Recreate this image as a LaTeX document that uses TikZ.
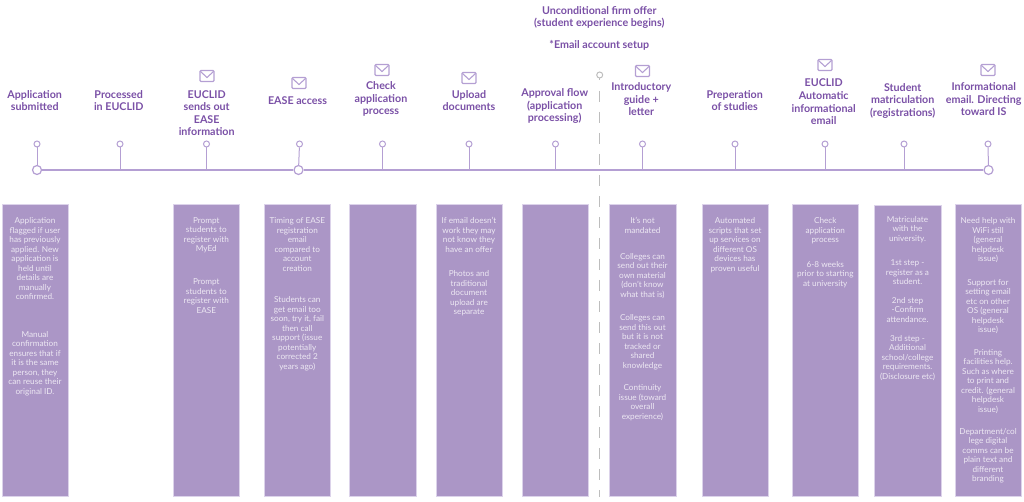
\documentclass[tikz,border=0pt]{standalone}
\usepackage{fontspec}
\setmainfont{Lato}
\definecolor{cardfill}{HTML}{AB96C6}
\definecolor{cardedge}{HTML}{DCD3EA}
\definecolor{headcol}{HTML}{7A50A6}
\definecolor{linecol}{HTML}{B49FD3}
\definecolor{bodycol}{HTML}{EDE8F3}
\definecolor{dashcol}{HTML}{BDBDBD}
\tikzset{
  card/.style={draw=cardedge,line width=0.8pt,fill=cardfill,anchor=north west,inner sep=0pt},
  head/.style={text=headcol,font=\fontsize{10.7}{12.6}\selectfont\bfseries,align=center,inner sep=0pt,anchor=center},
  body/.style={text=bodycol,font=\fontsize{8.2}{9.5}\selectfont,align=center,inner sep=0pt,anchor=north},
  big/.style={circle,draw=linecol,fill=white,line width=1.2pt,minimum size=9pt,inner sep=0pt},
  small/.style={circle,draw=linecol,fill=white,line width=1pt,minimum size=6pt,inner sep=0pt},
  graysmall/.style={circle,draw=dashcol,fill=white,line width=1pt,minimum size=6pt,inner sep=0pt},
  spine/.style={draw=linecol,line width=1.2pt},
  stem/.style={draw=linecol,line width=1pt},
  env/.pic={
    \draw[linecol,line width=1.1pt,rounded corners=1pt] (-7,-5.5) rectangle (7,5.5);
    \draw[linecol,line width=1.1pt] (-6.5,-4.5) -- (0,1.5) -- (6.5,-4.5);
  }
}
\begin{document}
\begin{tikzpicture}[x=1pt,y=-1pt]
\useasboundingbox (0,0) rectangle (1024,502);
% cards
\foreach \n/\l/\r/\t in {c1/1.7/67.8/204,c3/172.7/239.2/204,c4/263.7/330.2/204,c5/349.2/415.7/204,c6/435.7/501.7/204,c7/521.7/588.2/204,c8/608.7/675.7/204,c9/701.7/767.7/204,c10/791.7/858.2/204,c11/873.7/940.7/205,c12/954.7/1020.7/204}{
  \pgfmathsetmacro{\w}{\r-\l}\pgfmathsetmacro{\h}{496-\t}
  \node[card,minimum width=\w pt,minimum height=\h pt] (\n) at (\l,\t) {};
}
% divider
\node[graysmall] (g) at (599.7,75) {};
\coordinate (gs) at (599.7,80.5);
\coordinate (ge1) at (599.7,91);
\coordinate (ge2) at (599.7,497);
\draw[dashcol,line width=1pt] (g) -- (gs);
\draw[dashcol,line width=1pt,dash pattern=on 11pt off 10pt] (ge1) -- (ge2);
% timeline
\node[big] (b1) at (37,170) {};
\node[big] (b2) at (298.5,170) {};
\node[big] (b3) at (988.5,170) {};
\draw[spine] (b1) -- (b2);
\draw[spine] (b2) -- (b3);
\node[small] (s1) at (37,144) {};
\node[small] (s2) at (120,144) {};
\node[small] (s3) at (206.5,144) {};
\node[small] (s4) at (299.5,144) {};
\node[small] (s5) at (382.5,144) {};
\node[small] (s6) at (469,144) {};
\node[small] (s7) at (555.5,144) {};
\node[small] (s8) at (642.5,144) {};
\node[small] (s9) at (735,144) {};
\node[small] (s10) at (825,144) {};
\node[small] (s11) at (904,144) {};
\node[small] (s12) at (988,144) {};
\draw[stem] (s1) -- (b1);
\draw[stem] (s4) -- (b2);
\draw[stem] (s12) -- (b3);
\foreach \i in {2,3,5,6,7,8,9,10,11}{
  \coordinate (t\i) at (s\i |- b1);
  \draw[stem] (s\i) -- (t\i);
}
% envelopes
\pic at (207,76) {env};
\pic at (299,83) {env};
\pic at (382,70) {env};
\pic at (469,78) {env};
\pic at (642.5,71) {env};
\pic at (825,65) {env};
\pic at (988,70) {env};
% headings
\node[head] (h1) at (34.7,100.6) {Application\\submitted};
\node[head] (h2) at (118.7,100.6) {Processed\\in EUCLID};
\node[head] (h3) at (206.7,113.1) {EUCLID\\sends out\\EASE\\information};
\node[head] (h4) at (297.5,100.6) {EASE access};
\node[head] (h5) at (381,99.3) {Check\\application\\process};
\node[head] (h6) at (469,100.6) {Upload\\documents};
\node[head] (h7) at (554.7,106.1) {Approval flow\\(application\\processing)};
\node[head] (h8) at (641.3,99.3) {Introductory\\guide +\\letter};
\node[head] (h9) at (734.7,100.6) {Preperation\\of studies};
\node[head] (h10) at (823.7,101.9) {EUCLID\\Automatic\\informational\\email};
\node[head] (h11) at (902.7,100.6) {Student\\matriculation\\(registrations)};
\node[head] (h12) at (983.7,99.2) {Informational\\email. Directing\\toward IS};
\node[head] (top1) at (599.3,17.5) {Unconditional firm offer\\(student experience begins)};
\node[head] (top2) at (599.3,45.6) {*Email account setup};
% card text
\node[body] at (35,217.4) {Application\\flagged if user\\has previously\\applied. New\\application is\\held until\\details are\\manually\\confirmed.\\[28pt]Manual\\confirmation\\ensures that if\\it is the same\\person, they\\can reuse their\\original ID.};
\node[body] at (206.3,217.4) {Prompt\\students to\\register with\\MyEd\\[23.5pt]Prompt\\students to\\register with\\EASE};
\node[body] at (297.3,217.4) {Timing of EASE\\registration\\email\\compared to\\account\\creation\\[22pt]Students can\\get email too\\soon, try it, fail\\then call\\support (issue\\potentially\\corrected 2\\years ago)};
\node[body] at (469,217.4) {If email doesn't\\work they may\\not know they\\have an offer\\[15pt]Photos and\\traditional\\document\\upload are\\separate};
\node[body] at (642.5,217.4) {It's not\\mandated\\[16.5pt]Colleges can\\send out their\\own material\\(don't know\\what that is)\\[14pt]Colleges can\\send this out\\but it is not\\tracked or\\shared\\knowledge\\[13pt]Continuity\\issue (toward\\overall\\experience)};
\node[body] at (735,217.4) {Automated\\scripts that set\\up services on\\different OS\\devices has\\proven useful};
\node[body] at (825.3,217.4) {Check\\application\\process\\[15pt]6-8 weeks\\prior to starting\\at university};
\node[body] at (907.5,216.1) {Matriculate\\with the\\university.\\[15pt]1st step -\\register as a\\student.\\[9pt]2nd step\\-Confirm\\attendance.\\[9.5pt]3rd step -\\Additional\\school/college\\requirements.\\(Disclosure etc)};
\node[body] at (988,217.4) {Need help with\\WiFi still\\(general\\helpdesk\\issue)\\[14pt]Support for\\setting email\\etc on other\\OS (general\\helpdesk\\issue)\\[13pt]Printing\\facilities help.\\Such as where\\to print and\\credit. (general\\helpdesk\\issue)\\[12.5pt]Department/col\\lege digital\\comms can be\\plain text and\\different\\branding};
\end{tikzpicture}
\end{document}
